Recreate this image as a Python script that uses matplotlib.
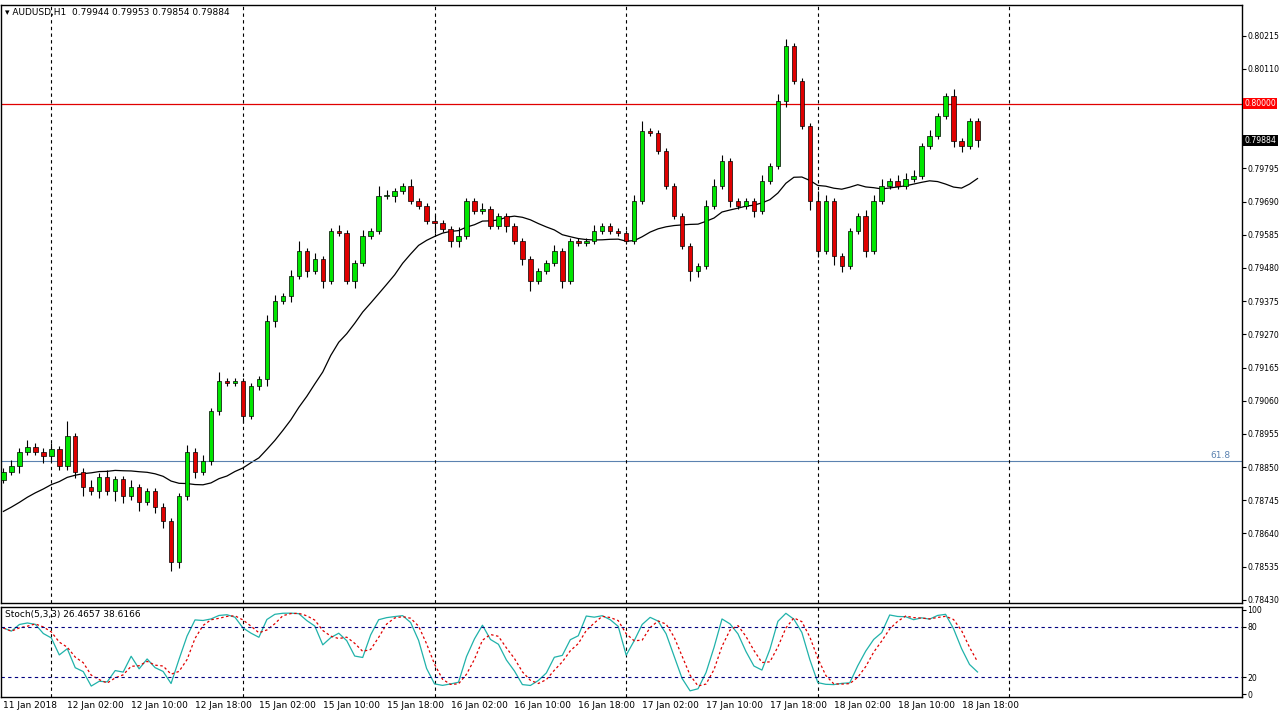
import numpy as np
import matplotlib
matplotlib.use("Agg")
import matplotlib.pyplot as plt
from matplotlib.patches import Rectangle

# AUDUSD H1 closes
closes = [
    0.78836, 0.78852, 0.78899, 0.78915, 0.78899, 0.78884, 0.78906, 0.78852, 0.78947, 0.78836,
    0.78788, 0.78773, 0.78820, 0.78773, 0.78811, 0.78757, 0.78788, 0.78741, 0.78773, 0.78725,
    0.78678, 0.78551, 0.78757, 0.78899, 0.78836, 0.78868, 0.79026, 0.79121, 0.79115, 0.79121,
    0.79011, 0.79105, 0.79128, 0.79312, 0.79375, 0.79391, 0.79454, 0.79534, 0.79470, 0.79508,
    0.79438, 0.79597, 0.79591, 0.79438, 0.79495, 0.79581, 0.79597, 0.79708, 0.79708, 0.79724,
    0.79740, 0.79692, 0.79676, 0.79629, 0.79622, 0.79603, 0.79565, 0.79581, 0.79692, 0.79660,
    0.79667, 0.79613, 0.79644, 0.79613, 0.79565, 0.79508, 0.79438, 0.79470, 0.79495, 0.79534,
    0.79438, 0.79565, 0.79559, 0.79565, 0.79597, 0.79613, 0.79597, 0.79591, 0.79565, 0.79692,
    0.79914, 0.79908, 0.79851, 0.79740, 0.79644, 0.79549, 0.79470, 0.79486, 0.79676, 0.79740,
    0.79819, 0.79692, 0.79676, 0.79692, 0.79660, 0.79755, 0.79803, 0.80009, 0.80183, 0.80072,
    0.79930, 0.79692, 0.79534, 0.79692, 0.79518, 0.79486, 0.79597, 0.79644, 0.79534, 0.79692,
    0.79740, 0.79755, 0.79740, 0.79762, 0.79771, 0.79866, 0.79898, 0.79961, 0.80025, 0.79882,
    0.79866, 0.79946, 0.79884,
]
first_open = 0.78810
# wick lengths in pips (0.0001) above / below the body
wick_up = [
    1, 2, 1, 2, 1, 1, 2, 1, 5, 1, 1, 2, 1, 2, 1, 1, 2, 1, 1, 1,
    1, 1, 1, 2, 1, 2, 1, 3, 1, 1, 1, 1, 1, 2, 2, 1, 2, 3, 1, 2,
    1, 1, 2, 1, 1, 2, 1, 3, 2, 1, 1, 2, 1, 1, 2, 1, 1, 3, 1, 1,
    2, 1, 1, 1, 1, 1, 1, 1, 1, 2, 1, 1, 1, 1, 2, 1, 1, 1, 1, 2,
    3, 1, 1, 1, 1, 1, 1, 1, 2, 2, 2, 1, 1, 1, 1, 2, 1, 2, 2, 1,
    1, 1, 3, 2, 1, 1, 1, 1, 2, 2, 2, 1, 2, 2, 2, 1, 2, 1, 1, 2,
    1, 1, 1,
]
wick_dn = [
    1, 1, 2, 1, 1, 2, 1, 1, 1, 2, 3, 1, 2, 1, 3, 2, 1, 3, 1, 2,
    2, 3, 2, 1, 2, 1, 1, 1, 1, 1, 2, 1, 1, 2, 2, 1, 2, 1, 2, 1,
    2, 1, 1, 1, 2, 1, 1, 1, 1, 2, 1, 1, 1, 1, 3, 1, 2, 2, 1, 1,
    1, 1, 1, 2, 1, 2, 3, 1, 1, 1, 2, 1, 1, 1, 1, 1, 1, 1, 1, 1,
    1, 1, 1, 1, 1, 1, 3, 2, 1, 1, 1, 2, 1, 1, 2, 1, 1, 1, 2, 1,
    1, 3, 2, 1, 3, 2, 1, 1, 2, 1, 1, 1, 1, 1, 1, 1, 1, 1, 1, 2,
    2, 1, 2,
]
prior_closes = [0.78560, 0.78580, 0.78600, 0.78590, 0.78620, 0.78640, 0.78630, 0.78660,
                0.78680, 0.78700, 0.78690, 0.78720, 0.78740, 0.78760, 0.78750, 0.78780,
                0.78800, 0.78790, 0.78810, 0.78820]
date_labels = ["11 Jan 2018", "12 Jan 02:00", "12 Jan 10:00", "12 Jan 18:00", "15 Jan 02:00",
               "15 Jan 10:00", "15 Jan 18:00", "16 Jan 02:00", "16 Jan 10:00", "16 Jan 18:00",
               "17 Jan 02:00", "17 Jan 10:00", "17 Jan 18:00", "18 Jan 02:00", "18 Jan 10:00",
               "18 Jan 18:00"]
price_ticks = [0.80215, 0.80110, 0.79795, 0.79690, 0.79585, 0.79480, 0.79375, 0.79270,
               0.79165, 0.79060, 0.78955, 0.78850, 0.78745, 0.78640, 0.78535, 0.78430]
round_level = 0.80000
fib_level = 0.78870

closes = np.array(closes)
n = len(closes)
opens = np.concatenate([[first_open], closes[:-1]])
highs = np.maximum(opens, closes) + np.array(wick_up) * 0.0001
lows = np.minimum(opens, closes) - np.array(wick_dn) * 0.0001

all_c = np.concatenate([prior_closes, closes])
ma = np.convolve(all_c, np.ones(20) / 20, mode="valid")[1:]

# stochastic 5,3,3
hh = np.array([highs[max(0, i - 4):i + 1].max() for i in range(n)])
ll = np.array([lows[max(0, i - 4):i + 1].min() for i in range(n)])
num = np.convolve(closes - ll, np.ones(3), mode="full")[:n]
den = np.convolve(hh - ll, np.ones(3), mode="full")[:n]
k = 100 * num / den
d = np.convolve(k, np.ones(3) / 3, mode="full")[:n]
d[:2] = k[:2]

W, H = 1280, 720
fig = plt.figure(figsize=(12.8, 7.2), dpi=100)
fig.patch.set_facecolor("white")
ax = fig.add_axes([1 / W, 1 - 603 / H, 1241 / W, 598 / H])
ax2 = fig.add_axes([1 / W, 1 - 697 / H, 1241 / W, 90 / H])

xmax = 1241 / 8
x = np.arange(n) + 0.0
for i in range(n):
    up = closes[i] >= opens[i]
    col = "#00e600" if up else "#e00000"
    ax.vlines(x[i], lows[i], highs[i], color="black", lw=0.8, zorder=3)
    b0 = min(opens[i], closes[i])
    bh = max(abs(closes[i] - opens[i]), 0.00002)
    ax.add_patch(Rectangle((x[i] - 0.28, b0), 0.56, bh, facecolor=col,
                           edgecolor="black", lw=0.5, zorder=4))
ax.plot(x, ma, color="black", lw=0.9, zorder=2)
ax.axhline(round_level, color="#e00000", lw=0.9)
ax.axhline(fib_level, color="#5b82b0", lw=0.8)
ax.text(xmax - 1.5, fib_level + 0.00003, "61.8", color="#5b82b0", fontsize=6.5, ha="right", va="bottom")

for a in (ax, ax2):
    a.set_xlim(-0.3, xmax)
    for g in range(6, 130, 24):
        a.axvline(g, color="black", ls=(0, (3, 3)), lw=0.8)
    a.set_xticks([])
    a.tick_params(axis="y", direction="out", length=3, labelsize=5.6, right=True, left=False,
                  labelright=True, labelleft=False, pad=1)
    for s in a.spines.values():
        s.set_linewidth(1)

ax.set_ylim(0.78420, 0.80312)
ax.set_yticks(price_ticks)
ax.set_yticklabels([f"{p:.5f}" for p in price_ticks])
for val, fc in ((round_level, "#ff0000"), (closes[-1], "black")):
    ax.text(1.002, val, f"{val:.5f}", transform=ax.get_yaxis_transform(), fontsize=5.6,
            color="white", va="center", ha="left",
            bbox=dict(boxstyle="square,pad=0.15", fc=fc, ec="none"), clip_on=False)
ax.text(0.003, 0.995, "▾ AUDUSD,H1  0.79944 0.79953 0.79854 0.79884", transform=ax.transAxes,
        fontsize=6.5, va="top", ha="left")

ax2.plot(x, k, color="#20b2aa", lw=0.9)
ax2.plot(x, d, color="#e00000", lw=0.9, ls=(0, (2, 2)))
for lv in (80, 20):
    ax2.axhline(lv, color="#000080", lw=0.8, ls=(0, (3, 3)))
ax2.set_ylim(-3, 103)
ax2.set_yticks([100, 80, 20, 0])
ax2.text(0.003, 0.97, f"Stoch(5,3,3) {k[-1]:.4f} {d[-1]:.4f}", transform=ax2.transAxes,
         fontsize=6.5, va="top", ha="left")

for j, lab in enumerate(date_labels):
    xi = 0 if j == 0 else 8 * j
    px = (1 + (xi + 0.3) / (xmax + 0.3) * 1241) / W
    fig.text(px, 1 - 705 / H, lab, fontsize=6.5, ha="left", va="center")

fig.savefig("out.png", dpi=100)
